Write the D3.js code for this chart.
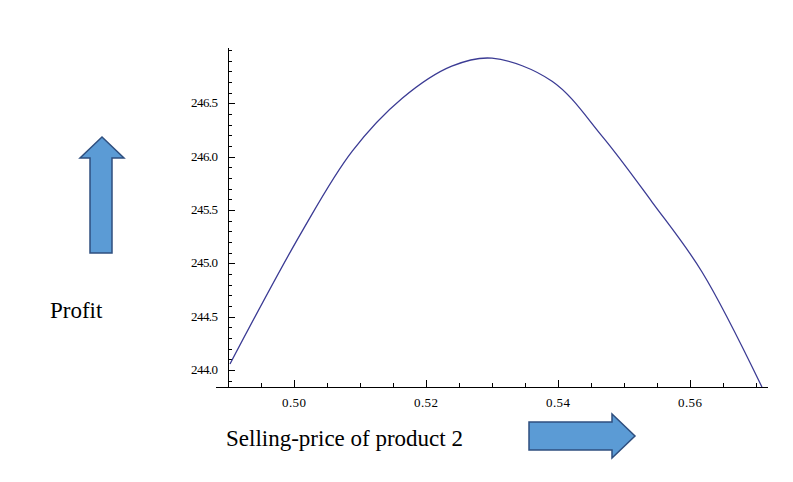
<!DOCTYPE html>
<html><head><meta charset="utf-8">
<script src="https://cdn.jsdelivr.net/npm/d3@7"></script>
<style>body{margin:0;background:#fff}</style>
</head><body><div id="container"></div>
<script>
var width = 793, height = 482;
// curve
var price  = [0.4903, 0.5012, 0.5088, 0.5164, 0.5239, 0.5300, 0.5391, 0.5467, 0.5542, 0.5618, 0.5709];
var profit = [244.056, 245.297, 246.049, 246.547, 246.848, 246.923, 246.707, 246.190, 245.579, 244.921, 243.840];
var xTicks = [0.50, 0.52, 0.54, 0.56];
var yTicks = [244.0, 244.5, 245.0, 245.5, 246.0, 246.5];

var svg = d3.select('#container').append('svg')
  .attr('width', width).attr('height', height);

var x = d3.scaleLinear().domain([0.49, 0.57]).range([228, 756]),
    y = d3.scaleLinear().domain([243.84, 247.0]).range([387, 50]);

var axes = svg.append('g').attr('stroke', '#000').attr('stroke-width', 1);
axes.append('line').attr('x1', 216).attr('x2', 768).attr('y1', 387.5).attr('y2', 387.5);
axes.append('line').attr('x1', 228.5).attr('x2', 228.5).attr('y1', 48).attr('y2', 387);

// x ticks, minor every 0.005
d3.range(0, 17).map(function(i){ return 0.49 + i * 0.005; }).forEach(function(v){
  var major = xTicks.some(function(t){ return Math.abs(t - v) < 1e-9; });
  var px = Math.round(x(v)) + 0.5;
  axes.append('line').attr('x1', px).attr('x2', px)
    .attr('y1', 387).attr('y2', 387 - (major ? 7 : 4));
});
// y ticks, minor every 0.1
d3.range(0, 32).map(function(i){ return 243.9 + i * 0.1; }).forEach(function(v){
  var major = yTicks.some(function(t){ return Math.abs(t - v) < 1e-6; });
  var py = Math.round(y(v)) + 0.5;
  axes.append('line').attr('x1', 228).attr('x2', 228 + (major ? 7 : 4))
    .attr('y1', py).attr('y2', py);
});

svg.selectAll('.xl').data(xTicks).enter().append('text')
  .attr('x', function(d){ return x(d); }).attr('y', 407)
  .attr('text-anchor', 'middle').attr('font-family', 'Liberation Serif')
  .attr('font-size', 13).attr('textLength', 24).text(function(d){ return d.toFixed(2); });
svg.selectAll('.yl').data(yTicks).enter().append('text')
  .attr('x', 218).attr('y', function(d){ return y(d) + 4; })
  .attr('text-anchor', 'end').attr('font-family', 'Liberation Serif')
  .attr('font-size', 13).attr('textLength', 27).text(function(d){ return d.toFixed(1); });

var pts = price.map(function(p, i){ return [p, profit[i]]; });
svg.append('path').datum(pts)
  .attr('fill', 'none').attr('stroke', '#3b3b94').attr('stroke-width', 1.3)
  .attr('d', d3.line().x(function(d){ return x(d[0]); }).y(function(d){ return y(d[1]); })
    .curve(d3.curveCatmullRom));

svg.append('text').attr('x', 50).attr('y', 318).attr('font-family', 'Liberation Serif')
  .attr('font-size', 23).text('Profit');
svg.append('text').attr('x', 226).attr('y', 446).attr('font-family', 'Liberation Serif')
  .attr('font-size', 23).text('Selling-price of product 2');

// arrows
svg.append('path')
  .attr('d', 'M90,253 L90,158 L80,158 L102,137 L124,158 L112,158 L112,253 Z')
  .attr('fill', '#5b9bd5').attr('stroke', '#2f4f7f').attr('stroke-width', 1.5);
svg.append('path')
  .attr('d', 'M529,422 L612,422 L612,414 L635,436 L612,458 L612,450 L529,450 Z')
  .attr('fill', '#5b9bd5').attr('stroke', '#2f4f7f').attr('stroke-width', 1.5);
</script>
</body></html>
